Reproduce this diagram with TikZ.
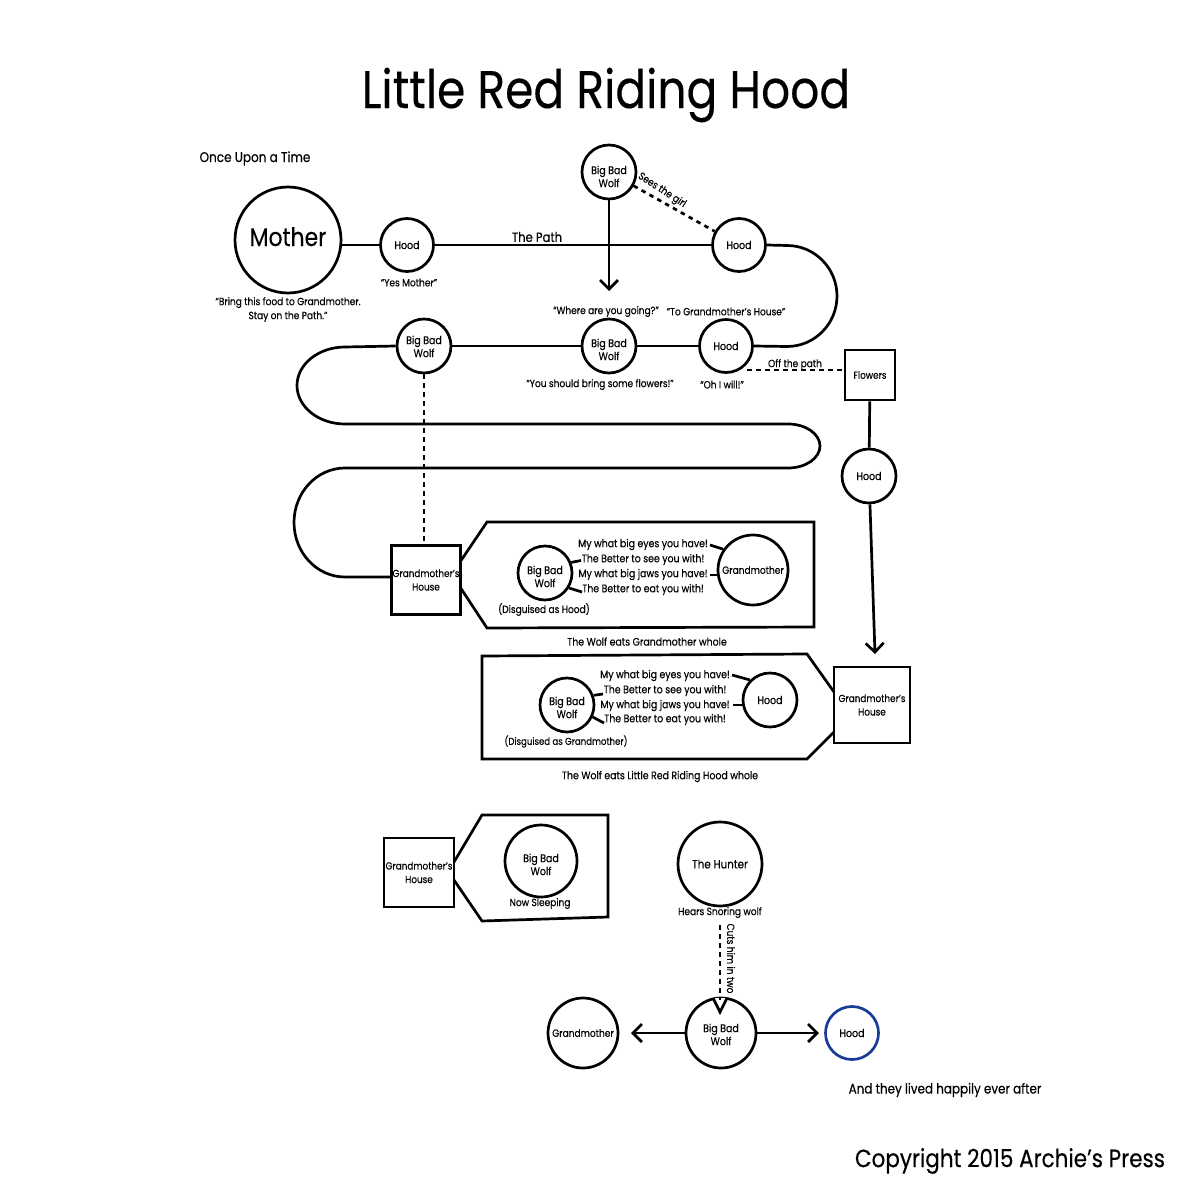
\documentclass[tikz,border=0pt]{standalone}
\usepackage{fontspec}
\setmainfont[FakeStretch=0.86,FakeBold=0.25]{Poppins}
\usetikzlibrary{arrows.meta}
\newcommand{\fs}[2][14]{\fontsize{#2}{#1}\selectfont}
\newcommand{\wlf}[1]{\raisebox{#1}[0pt][0pt]{\begin{tabular}{@{}c@{}}Big Bad\\Wolf\end{tabular}}}
\tikzset{
 ln/.style={line width=2.7pt,line cap=butt},
 dsh/.style={line width=2.7pt,dash pattern=on 4.5pt off 4.5pt},
 arr/.style={ln,-{Straight Barb[length=9pt,width=18pt,line width=2.7pt]}},
 circ/.style={circle,draw,fill=white,line width=2.7pt,inner sep=0pt,align=center,font=\fs[13]{11},minimum size=#1},
 gm/.style={font=\fs{10.5}},
 sq/.style={rectangle,draw,fill=white,line width=2.7pt,inner sep=0pt,align=center,font=\fs[13.5]{10.3}},
 lab/.style={inner sep=0pt,align=center,font=\fs[14]{10.5},yshift=-0.5pt},
 labb/.style={inner sep=0pt,align=center,font=\fs[14]{10.9},yshift=-0.5pt},
 big/.style={inner sep=0pt,align=center,font=\fs{14}},
 pent/.style={line width=2.7pt,line join=miter}
}
\begin{document}
\begin{tikzpicture}[x=1pt,y=-1pt]
\useasboundingbox (0,0) rectangle (1200,1201);
\node[inner sep=0pt,font=\fs{53}] (title) at (606,95) {Little Red Riding Hood};
\node[big] (once) at (255,158.5) {Once Upon a Time};
% top row
\node[circ=106pt,font=\fs{25.5}] (mother) at (288,240) {\raisebox{-6pt}[0pt][0pt]{Mother}};
\node[circ=53pt] (h1) at (407,245) {Hood};
\node[circ=53pt] (h2) at (739,245) {Hood};
\node[circ=54pt] (w1) at (609,172) {\wlf{-8.75pt}};
\coordinate (w1end) at (609,291);
\node[circ=54pt] (w2) at (609,346) {\wlf{-7.75pt}};
\node[circ=54pt] (w3) at (424,346) {\wlf{-4.75pt}};
\node[circ=53pt] (h3) at (726,346) {Hood};
\node[sq,minimum width=50pt,minimum height=50pt] (fl) at (870,375) {Flowers};
\node[circ=54pt] (h4) at (869,476) {Hood};
\node[lab] at (409,282) {“Yes Mother”};
\node[lab] at (288,309) {“Bring this food to Grandmother.\\Stay on the Path.”};
\node[inner sep=0pt,font=\fs{13.5}] at (537,237) {The Path};
\node[lab] at (606,311) {“Where are you going?”};
\node[lab] at (726,311) {“To Grandmother’s House”};
\node[lab] at (600,384) {“You should bring some flowers!”};
\node[lab] at (722,384) {“Oh I will!”};
\node[lab,rotate=-33] at (662,190) {Sees the girl};
\node[lab] at (795,364) {Off the path};
\draw[ln] (h1.west) -- (h1.west -| mother.east);
\draw[ln] (h1) -- (h2);
\draw[arr] (w1) -- (w1end);
\draw[dsh] (w1) -- (h2);
\draw[ln] (h2.east) -- (787,245.5) arc[start angle=90,end angle=-90,x radius=50pt,y radius=50.5pt] -- (h3.east);
\draw[ln] (h3.west) -- (h3.west -| w2.east);
\draw[ln] (w2) -- (w3);
\coordinate (offst) at (747,370);
\draw[dsh] (offst) -- (fl.west |- offst);
\draw[ln] (fl) -- (h4);
% house 1
\node[sq,minimum width=69pt,minimum height=69pt] (gh1) at (426,580) {Grandmother’s\\House};
\draw[ln] (w3.west) -- (345,347) arc[start angle=90,end angle=270,x radius=48pt,y radius=38.5pt] -- (788,424) arc[start angle=90,end angle=-90,x radius=32pt,y radius=22pt] -- (345,468) arc[start angle=90,end angle=270,x radius=51pt,y radius=54.5pt] -- (gh1.west |- 0,577);
\draw[dsh] (w3) -- (gh1.north -| w3);
\draw[pent] (460,562) -- (487,522) -- (814,522) -- (814,627) -- (487,628) -- (460,587);
\node[circ=54pt] (w4) at (545,573) {\wlf{-7.75pt}};
\node[circ=70pt,gm] (gm1) at (753,570) {Grandmother};
\node[labb] (a1) at (643,544) {My what big eyes you have!};
\node[labb] (a2) at (643,559) {The Better to see you with!};
\node[labb] (a3) at (643,574) {My what big jaws you have!};
\node[labb] (a4) at (643,589) {The Better to eat you with!};
\draw[ln] (710,545) -- (gm1.145);
\draw[ln] (710,575) -- (gm1.west |- 0,575);
\draw[ln] (581,560.5) -- (w4.22);
\draw[ln] (582,592) -- (w4.-32);
\node[lab] at (544,609) {(Disguised as Hood)};
\node[labb] at (647,641) {The Wolf eats Grandmother whole};
% house 2
\node[sq,minimum width=76pt,minimum height=76pt] (gh2) at (872,705) {Grandmother’s\\House};
\draw[arr] (h4) -- (875,654);
\draw[pent] (834,692) -- (807,654) -- (482,656) -- (482,759) -- (807,759) -- (834,732);
\node[circ=54pt] (w5) at (567,705) {\wlf{-6.75pt}};
\node[circ=54pt] (h5) at (770,700) {Hood};
\node[labb] (b1) at (665,675) {My what big eyes you have!};
\node[labb] (b2) at (665,690) {The Better to see you with!};
\node[labb] (b3) at (665,705) {My what big jaws you have!};
\node[labb] (b4) at (665,719) {The Better to eat you with!};
\draw[ln] (732,675) -- (h5.135);
\draw[ln] (733,705) -- (h5.west |- 0,705);
\draw[ln] (603,694) -- (w5.20);
\draw[ln] (604,723) -- (w5.-25);
\node[lab,font=\fs{10}] at (566,741) {(Disguised as Grandmother)};
\node[labb] at (660,776) {The Wolf eats Little Red Riding Hood whole};
% house 3
\node[sq,minimum width=70pt,minimum height=69pt] (gh3) at (419,872.5) {Grandmother’s\\House};
\draw[pent] (454,862) -- (482,815) -- (608,815) -- (608,917) -- (482,921) -- (454,880);
\node[circ=72pt] (w6) at (541,861) {\wlf{-7.75pt}};
\node[lab] at (540,903) {Now Sleeping};
% hunter
\node[circ=84pt,font=\fs{12}] (hunter) at (720,864) {The Hunter};
\node[lab] (snore) at (720,912) {Hears Snoring wolf};
\node[circ=70pt] (w7) at (721,1033) {\wlf{-5.75pt}};
\node[circ=70pt,gm] (gm2) at (583,1033) {Grandmother};
\node[circ=53pt,draw={rgb,255:red,25;green,60;blue,150}] (h6) at (852,1033) {Hood};
\coordinate (cutst) at (720,925);
\coordinate (cuten) at (720,1000);
\coordinate (nl) at (713,998);
\coordinate (nt) at (720,1012);
\coordinate (nr) at (727,998);
\draw[line width=2.7pt,line join=miter,fill=white] (nl) -- (nt) -- (nr);
\draw[dsh] (cutst) -- (cuten);
\node[lab,rotate=-90] at (731,958) {Cuts him in two};
\coordinate (arrL) at (631,1033);
\coordinate (arrR) at (819,1033);
\draw[arr] (w7) -- (arrL);
\draw[arr] (w7) -- (arrR);
\node[inner sep=0pt,font=\fs{13.9}] at (945,1090) {And they lived happily ever after};
\node[inner sep=0pt,font=\fs{25}] at (1010,1161) {Copyright 2015 Archie’s Press};
\end{tikzpicture}
\end{document}
